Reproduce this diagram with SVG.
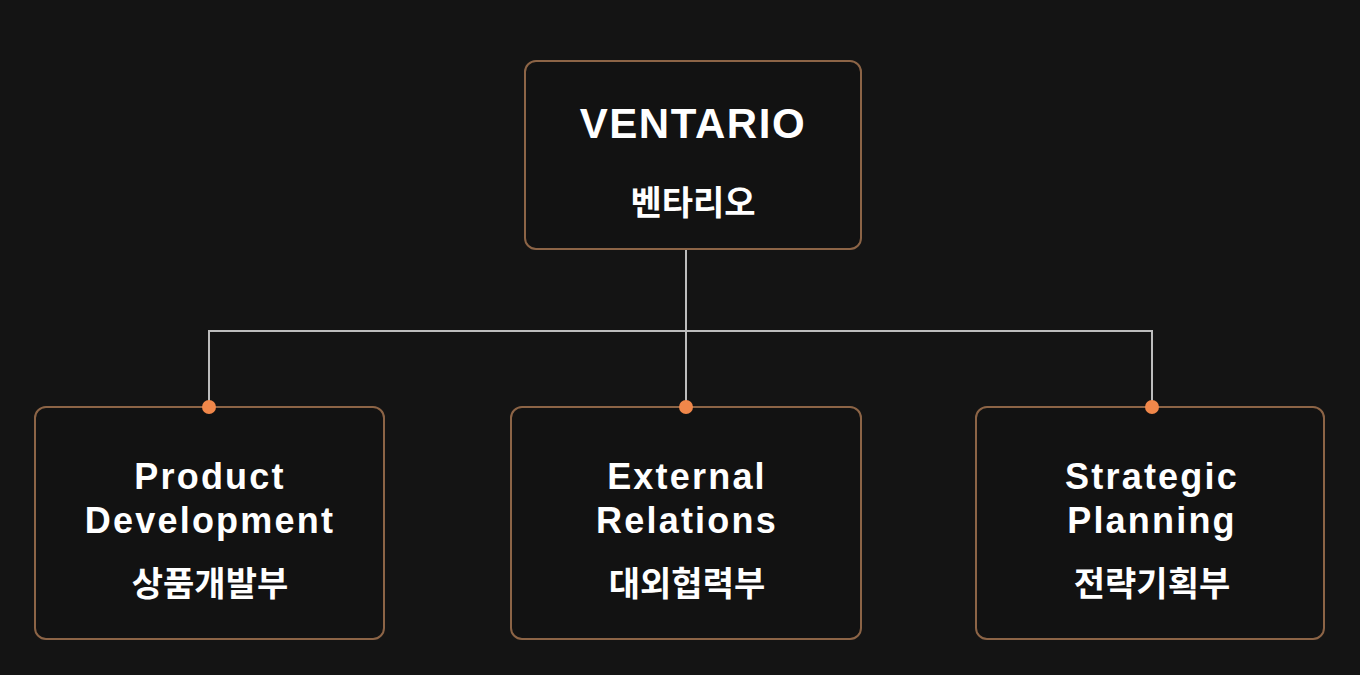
<svg xmlns="http://www.w3.org/2000/svg" width="1360" height="675" viewBox="0 0 1360 675">
<style>
.box{fill:#121212;stroke:#8c6446;stroke-width:2}
.en{font-family:"Liberation Sans","Noto Sans CJK KR",sans-serif;font-weight:bold;fill:#ffffff;text-anchor:middle;font-size:36px;letter-spacing:2.2px}
.ko{font-family:"Noto Sans CJK KR",sans-serif;font-weight:bold;fill:#ffffff;text-anchor:middle;font-size:34px}
.title{font-size:42px;letter-spacing:1.6px}
.line{fill:none;stroke:#bdbdbd;stroke-width:2}
.dot{fill:#f0874a}
</style>
<rect width="1360" height="675" fill="#141414"/>
<g id="connectors">
<path class="line" d="M686 249 V407 M209 407 V331 H1152 V407"/>
</g>
<g id="ventario">
<rect class="box" x="525" y="61" width="336" height="188" rx="11"/>
<text class="en title" x="693" y="138">VENTARIO</text>
<text class="ko" x="693" y="215">벤타리오</text>
</g>
<g id="product-development">
<rect class="box" x="35" y="407" width="349" height="232" rx="11"/>
<text class="en" x="210" y="489">Product</text>
<text class="en" x="210" y="533">Development</text>
<text class="ko" x="210" y="596">상품개발부</text>
</g>
<g id="external-relations">
<rect class="box" x="511" y="407" width="350" height="232" rx="11"/>
<text class="en" x="687" y="489">External</text>
<text class="en" x="687" y="533">Relations</text>
<text class="ko" x="687" y="596">대외협력부</text>
</g>
<g id="strategic-planning">
<rect class="box" x="976" y="407" width="348" height="232" rx="11"/>
<text class="en" x="1152" y="489">Strategic</text>
<text class="en" x="1152" y="533">Planning</text>
<text class="ko" x="1152" y="596">전략기획부</text>
</g>
<g id="dots">
<circle class="dot" cx="209" cy="407" r="7"/>
<circle class="dot" cx="686" cy="407" r="7"/>
<circle class="dot" cx="1152" cy="407" r="7"/>
</g>
</svg>
